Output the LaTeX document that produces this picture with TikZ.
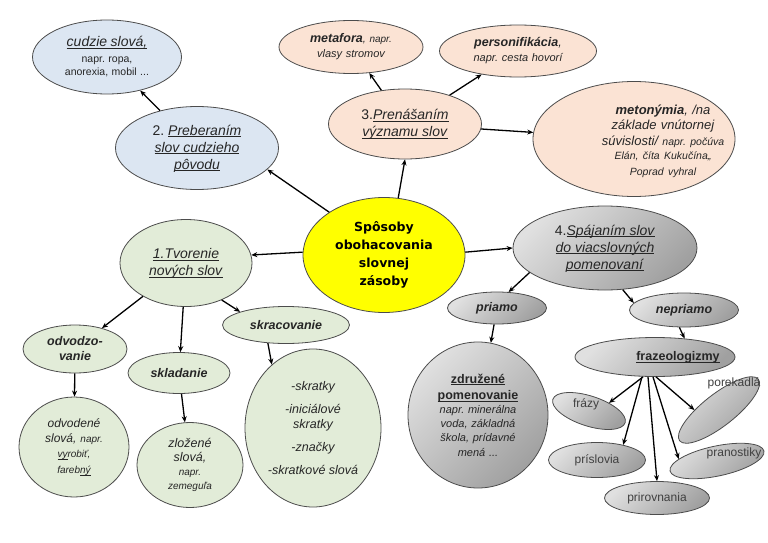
\documentclass[tikz,border=0pt]{standalone}
\usepackage{fontspec}
\setmainfont{Liberation Sans}
\newfontfamily\hubfont{DejaVu Sans}
\usetikzlibrary{arrows.meta,shapes.geometric}
\frenchspacing
\definecolor{MapYellow}{HTML}{FFFF00}
\definecolor{MapBlue}{HTML}{DCE6F2}
\definecolor{MapPeach}{HTML}{FBE3D4}
\definecolor{MapGreen}{HTML}{E2ECD8}
\definecolor{MapGrayLight}{HTML}{E0E0E0}
\definecolor{MapGrayDark}{HTML}{A0A0A0}
\definecolor{MapText}{HTML}{262626}
\newcommand{\ulin}[1]{\underline{\raisebox{0pt}[\height][0pt]{#1}}}

\begin{document}
\begin{tikzpicture}[x=1pt,y=-1pt]
  \tikzset{
    bubble/.style={ellipse,draw=black!70,line width=0.8pt,inner sep=0pt,align=center,text=MapText},
    bluebub/.style={bubble,fill=MapBlue},
    peachbub/.style={bubble,fill=MapPeach},
    greenbub/.style={bubble,fill=MapGreen},
    graybub/.style={bubble,top color=MapGrayLight,bottom color=MapGrayDark,shading angle=45},
    mainlbl/.style={font=\fontsize{14}{17}\selectfont},
    kind/.style={font=\fontsize{12.5}{15}\selectfont\bfseries\itshape},
    leaf/.style={font=\fontsize{12}{14}\selectfont,text=black!75},
    link/.style={-{Stealth[length=6pt,width=5pt]},line width=1.3pt}
  }
  \useasboundingbox (0,0) rectangle (768,543);
  \fill[white] (0,0) rectangle (768,543);

  % centre
  \node[bubble,fill=MapYellow,minimum width=162pt,minimum height=115pt,text=black,
        font=\hubfont\bfseries\fontsize{12.5}{18}\selectfont] (hub) at (384,255)
        {Spôsoby\\obohacovania\\slovnej\\zásoby};

  % 2. preberanie
  \node[bluebub,mainlbl,minimum width=163pt,minimum height=83pt] (prebr) at (197,148)
        {2. \ulin{\textit{Preberaním}}\\ \ulin{\textit{slov cudzieho}}\\ \ulin{\textit{pôvodu}}};
  \node[bluebub,minimum width=149pt,minimum height=74pt,text width=100pt,font=\fontsize{10.5}{13}\selectfont] (cudz) at (107,57)
        {{\fontsize{14}{16}\selectfont\ulin{\textit{cudzie slová,}}}\\[3pt] napr. ropa,\\ anorexia, mobil ...};

  % 3. prenasanie
  \node[peachbub,mainlbl,minimum width=153pt,minimum height=70pt] (prens) at (405,124)
        {3.\ulin{\textit{Prenášaním}}\\ \ulin{\textit{významu slov}}};
  \node[peachbub,minimum width=144pt,minimum height=53pt,text width=95pt,font=\fontsize{11}{15}\selectfont\itshape] (metaf) at (351,47)
        {{\fontsize{12.5}{14}\selectfont\bfseries metafora}, {\fontsize{10}{12}\selectfont napr.}\\ vlasy stromov};
  \node[peachbub,minimum width=157pt,minimum height=52pt,text width=100pt,font=\fontsize{11}{15}\selectfont\itshape] (perso) at (518,51)
        {{\fontsize{12.5}{14}\selectfont\bfseries personifikácia}{\fontsize{12.5}{14}\selectfont ,}\\ napr. cesta hovorí};
  \node[peachbub,minimum width=202pt,minimum height=115pt] (meton) at (634,139) {};
  \node[align=center,text width=140pt,text=MapText,font=\fontsize{13}{15.5}\selectfont\itshape] (metontxt) at (663,141)
        {\textbf{metonýmia}, /na\\ základe vnútornej\\ súvislosti/ {\fontsize{10.5}{13}\selectfont napr. počúva}\\
         \fontsize{10.5}{14.5}\selectfont Elán, číta Kukučína,,\\ Poprad vyhral};

  % 1. tvorenie
  \node[greenbub,mainlbl,minimum width=132pt,minimum height=87pt] (tvor) at (186,263)
        {\ulin{\textit{1.Tvorenie}}\\ \ulin{\textit{nových slov}}};
  \node[greenbub,kind,minimum width=104pt,minimum height=48pt] (odvz) at (75,349) {odvodzo-\\vanie};
  \node[greenbub,kind,minimum width=102pt,minimum height=41pt] (sklad) at (179,373) {skladanie};
  \node[greenbub,kind,minimum width=127pt,minimum height=37pt] (skrac) at (286,325) {skracovanie};
  \node[greenbub,minimum width=110pt,minimum height=100pt,text width=76pt,font=\fontsize{12}{15.5}\selectfont\itshape] (odvsl) at (74,447)
        {odvodené\\ slová, {\fontsize{10}{12}\selectfont napr.}\\ \fontsize{10}{15}\selectfont\ulin{vy}robiť,\\ fareb\ulin{ný}};
  \node[greenbub,minimum width=106pt,minimum height=85pt,text width=70pt,font=\fontsize{12.5}{14.5}\selectfont\itshape] (zlsl) at (190,465)
        {zložené\\ slová,\\ \fontsize{10}{13.5}\selectfont napr.\\ zemeguľa};
  \node[greenbub,minimum width=136pt,minimum height=158pt,font=\fontsize{12.5}{15}\selectfont\itshape] (skrat) at (313,428)
        {-skratky\\[8pt] -iniciálové\\ skratky\\[8pt] -značky\\[8pt] -skratkové slová};

  % 4. spajanie
  \node[graybub,mainlbl,minimum width=184pt,minimum height=84pt] (spaj) at (605,248)
        {4.\ulin{\textit{Spájaním slov}}\\ \ulin{\textit{do viacslovných}}\\ \ulin{\textit{pomenovaní}}};
  \node[graybub,kind,minimum width=99pt,minimum height=32pt] (priam) at (497,308) {priamo};
  \node[graybub,kind,minimum width=109pt,minimum height=34pt] (nepri) at (684,310) {nepriamo};
  \node[graybub,minimum width=140pt,minimum height=146pt,text width=95pt,font=\fontsize{11}{14.2}\selectfont\itshape] (zdruz) at (478,415)
        {{\upshape\bfseries\fontsize{12.5}{16}\selectfont\ulin{združené}}\\[2pt]
         {\upshape\bfseries\fontsize{12.5}{16}\selectfont\ulin{pomenovanie}}\\
         napr. minerálna\\ voda, základná\\ škola, prídavné\\ mená ...};
  \node[graybub,minimum width=160pt,minimum height=39pt] (fraz) at (655,357) {};
  \node[font=\fontsize{12.5}{15}\selectfont\bfseries,text=MapText] (fraztxt) at (678,357) {\ulin{frazeologizmy}};

  \node[graybub,minimum width=76pt,minimum height=30pt,rotate=-18] (frazy) at (589,411) {};
  \node[leaf] (frazytxt) at (586,404) {frázy};
  \node[graybub,leaf,minimum width=97pt,minimum height=35pt] (prisl) at (597,460) {príslovia};
  \node[graybub,leaf,minimum width=105pt,minimum height=33pt] (prirv) at (657,498) {prirovnania};
  \node[graybub,minimum width=96pt,minimum height=30pt,rotate=12] (pranos) at (717,461) {};
  \node[leaf] (pranostxt) at (734,453) {pranostiky};
  \node[graybub,minimum width=100pt,minimum height=32pt,rotate=38] (porek) at (719,410) {};
  \node[leaf] (porektxt) at (734,383) {porekadlá};

  % arrows
  \draw[link] (hub.142) -- (prebr.343);
  \draw[link] (prebr) -- (cudz);
  \draw[link] (hub.76) -- (prens.south);
  \draw[link] (prens) -- (metaf);
  \draw[link] (prens) -- (perso);
  \draw[link] (prens) -- (meton);
  \draw[link] (hub.178) -- (tvor.7);
  \draw[link] (tvor) -- (odvz);
  \draw[link] (tvor) -- (sklad);
  \draw[link] (tvor.314) -- (skrac.164);
  \draw[link] (odvz) -- (odvsl);
  \draw[link] (sklad) -- (zlsl);
  \draw[link] (skrac.225) -- (skrat.123);
  \draw[link] (hub.2) -- (spaj.west);
  \draw[link] (spaj.198) -- (priam.54);
  \draw[link] (spaj.293) -- (nepri.172);
  \draw[link] (priam) -- (zdruz);
  \draw[link] (nepri.255) -- (fraz.32);
  \draw[link] ([xshift=-12pt]fraz.south) -- (frazy.40);
  \draw[link] ([xshift=-13pt]fraz.south) -- (prisl.30);
  \draw[link] ([xshift=-7pt]fraz.south) -- (prirv.north);
  \draw[link] ([xshift=-2pt]fraz.south) -- (pranos.165);
  \draw[link] ([xshift=1pt]fraz.south) -- (porek.142);
\end{tikzpicture}
\end{document}
